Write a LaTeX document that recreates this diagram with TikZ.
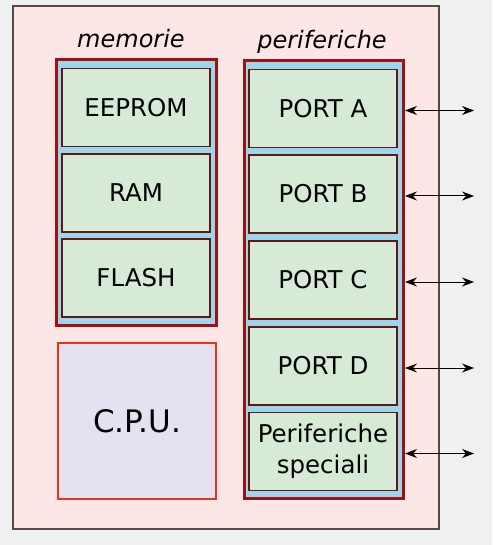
\documentclass[tikz,border=0pt]{standalone}
\usepackage{fontspec}
\setmainfont{DejaVu Sans}
\definecolor{sfondo}{HTML}{EEF1EF}
\definecolor{rosa}{HTML}{FCE6E6}
\definecolor{bordo}{HTML}{5A4848}
\definecolor{cornice}{HTML}{9E1212}
\definecolor{celeste}{HTML}{9DD5EA}
\definecolor{verdino}{HTML}{D6EAD6}
\definecolor{marrone}{HTML}{5E1A12}
\definecolor{lilla}{HTML}{E6E1F0}
\definecolor{rosso}{HTML}{E8321C}
\usetikzlibrary{arrows.meta}

\begin{document}
\begin{tikzpicture}[x=1pt, y=-1pt,
  gruppo/.style={draw=cornice, fill=celeste, line width=3pt, inner sep=0pt},
  cella/.style={draw=marrone, fill=verdino, line width=1.5pt, inner sep=0pt,
    minimum width=148pt, minimum height=78pt, align=center,
    font=\fontsize{24.5}{31}\selectfont},
  titolo/.style={anchor=base, font=\fontsize{24}{28}\selectfont\itshape},
  bus/.style={{Stealth[length=12pt,width=9pt,inset=4pt]}-{Stealth[length=12pt,width=9pt,inset=4pt]}, line width=1pt}]
  \useasboundingbox (0,0) rectangle (492,545);
  \fill[sfondo] (0,0) rectangle (492,545);
  \draw[bordo, fill=rosa, line width=1.2pt] (13,6) rectangle (439,529);

  \node[gruppo, minimum width=160pt, minimum height=266pt] (mem) at (136.5,192.5) {};
  \node[titolo] (tmem) at (131,48) {memorie};
  \foreach \y/\nome/\testo in {107.5/eeprom/EEPROM, 193/ram/RAM, 278/flash/FLASH} {
    \node[cella] (\nome) at (136,\y) {\testo};
  }

  \node[draw=rosso, fill=lilla, line width=2pt, minimum width=158pt, minimum height=156pt,
    font=\fontsize{31}{36}\selectfont] (cpu) at (137,421) {C.P.U.};

  \node[gruppo, minimum width=159pt, minimum height=438pt] (per) at (324,279.5) {};
  \node[titolo] (tper) at (322,49) {periferiche};
  \foreach \y/\nome/\testo in {
    108.5/pa/PORT A,
    194/pb/PORT B,
    280/pc/PORT C,
    366/pd/PORT D,
    451.5/ps/{Periferiche\\speciali}} {
    \node[cella] (\nome) at (323,\y) {\testo};
    \coordinate (\nome-out) at (474,\y+2);
    \draw[bus] (\nome-out -| per.east) -- (\nome-out);
  }
\end{tikzpicture}
\end{document}
